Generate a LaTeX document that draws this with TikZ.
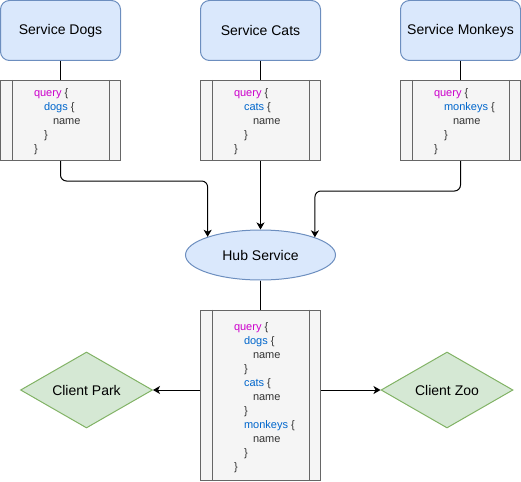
\documentclass[tikz,border=0pt]{standalone}
\usepackage{fontspec}
\setmainfont{Liberation Sans}
\usetikzlibrary{shapes.geometric,arrows.meta,calc}
\definecolor{blueF}{HTML}{DAE8FC}
\definecolor{blueD}{HTML}{6C8EBF}
\definecolor{greenF}{HTML}{D5E8D4}
\definecolor{greenD}{HTML}{82B366}
\definecolor{grayF}{HTML}{F5F5F5}
\definecolor{grayD}{HTML}{666666}
\definecolor{codeT}{HTML}{333333}
\definecolor{kwQ}{HTML}{CC00CC}
\definecolor{kwF}{HTML}{0066CC}
\newcommand\kwq{\textcolor{kwQ}{query}}
\newcommand\kwf[1]{\textcolor{kwF}{#1}}
\newcommand\codeln[2]{\hbox{\hspace{#1pt}#2}}
\begin{document}
\begin{tikzpicture}[x=1pt,y=-1pt,line width=1pt,
  svc/.style={rectangle, rounded corners=9, draw=blueD, fill=blueF, minimum width=120, minimum height=60, inner sep=0, font=\fontsize{14}{16}\selectfont},
  codebox/.style={rectangle, draw=grayD, fill=grayF, minimum width=120, inner sep=0},
  codetext/.style={anchor=base west, inner sep=0, text=codeT, font=\fontsize{11}{14}\selectfont},
  hubst/.style={ellipse, draw=blueD, fill=blueF, minimum width=150, minimum height=50, inner sep=0, font=\fontsize{14}{16}\selectfont},
  client/.style={diamond, aspect=1.7, draw=greenD, fill=greenF, minimum width=132, minimum height=76, inner sep=0, font=\fontsize{14}{16}\selectfont},
  conn/.style={draw=black, line width=1pt},
  arr/.style={conn, -{Stealth[length=7pt,width=8pt,inset=2pt]}, rounded corners=6}
]
\useasboundingbox (0,0) rectangle (521,481);

% services
\node[svc] (sd) at (60.5,30.5) {Service Dogs};
\node[svc] (sc) at (260.5,30.5) {Service Cats};
\node[svc] (sm) at (460.5,30.5) {Service Monkeys};

% code boxes
\node[codebox, minimum height=80] (cd) at (60.5,120.5) {};
\node[codebox, minimum height=80] (cc) at (260.5,120.5) {};
\node[codebox, minimum height=80] (cm) at (460.5,120.5) {};
\node[codebox, minimum height=170] (ch) at (260.5,395) {};
\foreach \b in {cd,cc,cm,ch}{
  \draw[grayD] ([xshift=12pt]\b.north west) -- ([xshift=12pt]\b.south west);
  \draw[grayD] ([xshift=-12pt]\b.north east) -- ([xshift=-12pt]\b.south east);
}

\node[codetext] (td) at (33.5,97) {\vtop{\codeln{0}{\kwq\ \{}\codeln{10}{\kwf{dogs} \{}\codeln{19}{name}\codeln{10}{\}}\codeln{0}{\}}}};
\node[codetext] (tc) at (233.5,97) {\vtop{\codeln{0}{\kwq\ \{}\codeln{10}{\kwf{cats} \{}\codeln{19}{name}\codeln{10}{\}}\codeln{0}{\}}}};
\node[codetext] (tm) at (433.5,97) {\vtop{\codeln{0}{\kwq\ \{}\codeln{10}{\kwf{monkeys} \{}\codeln{19}{name}\codeln{10}{\}}\codeln{0}{\}}}};
\node[codetext] (th) at (233.5,330.5) {\vtop{\codeln{0}{\kwq\ \{}\codeln{10}{\kwf{dogs} \{}\codeln{19}{name}\codeln{10}{\}}\codeln{10}{\kwf{cats} \{}\codeln{19}{name}\codeln{10}{\}}\codeln{10}{\kwf{monkeys} \{}\codeln{19}{name}\codeln{10}{\}}\codeln{0}{\}}}};

% hub and clients
\node[hubst] (hub) at (260.5,255) {Hub Service};
\node[client] (park) at (86.5,390) {Client Park};
\node[client] (zoo) at (447,390) {Client Zoo};

% connectors
\draw[conn] (sd) -- (cd);
\draw[conn] (sc) -- (cc);
\draw[conn] (sm) -- (cm);
\draw[arr] (cd.south) -- ++(0,20) -| (hub.161.5);
\draw[arr] (cc.south) -- (hub.north);
\draw[arr] (cm.south) -- ++(0,30) -| (hub.18.5);
\draw[conn] (hub.south) -- (ch.north);
\draw[arr] (park.east -| ch.west) -- (park.east);
\draw[arr] (zoo.west -| ch.east) -- (zoo.west);
\end{tikzpicture}
\end{document}
